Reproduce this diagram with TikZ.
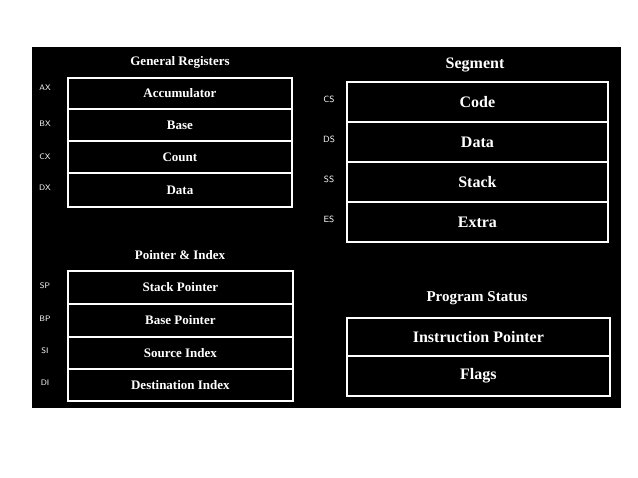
\documentclass[tikz,border=0pt]{standalone}
\usepackage{fontspec}
\setmainfont{Liberation Serif}
\begin{document}
\begin{tikzpicture}[x=1pt,y=-1pt,
  reg/.style={draw=white,line width=1.8pt,text=white,font=\bfseries\fontsize{13}{15}\selectfont,anchor=north west,inner sep=0pt},
  lbl/.style={text=white,font=\sffamily\fontsize{8}{9}\selectfont},
  ttl/.style={text=white,font=\bfseries\fontsize{13}{15}\selectfont}]
\useasboundingbox (0,0) rectangle (638,478);
\fill[black] (32,47) rectangle (621,408);
% General registers
\node[ttl] (tg) at (180,62) {General Registers};
\foreach \n/\t/\y/\h/\l/\ly in {ax/Accumulator/77/31/AX/88,bx/Base/108/32/BX/124,cx/Count/140/32/CX/157,dx/Data/172/34/DX/188}{
  \node[reg,minimum width=224pt,minimum height=\h pt] (\n) at (67,\y) {\t};
  \node[lbl] (l\n) at (45,\ly) {\l};
}
% Segment
\node[ttl,font=\bfseries\fontsize{16}{18}\selectfont] (ts) at (475,65) {Segment};
\foreach \n/\t/\y/\l in {cs/Code/81/CS,ds/Data/121/DS,ss/Stack/161/SS,es/Extra/201/ES}{
  \node[reg,font=\bfseries\fontsize{16}{18}\selectfont,minimum width=261pt,minimum height=40pt] (\n) at (346,\y) {\t};
  \node[lbl,font=\sffamily\fontsize{9}{10}\selectfont] (l\n) at (329,\y+18) {\l};
}
% Pointer & Index
\node[ttl] (tp) at (180,255) {Pointer \& Index};
\foreach \n/\t/\y/\h/\l/\ly in {sp/Stack Pointer/270/33/SP/286,bp/Base Pointer/303/33/BP/319,si/Source Index/336/32/SI/351,di/Destination Index/368/32/DI/383}{
  \node[reg,minimum width=225pt,minimum height=\h pt] (\n) at (67,\y) {\t};
  \node[lbl] (l\n) at (45,\ly) {\l};
}
% Program status
\node[ttl,font=\bfseries\fontsize{15}{17}\selectfont] (tps) at (477,298) {Program Status};
\node[reg,font=\bfseries\fontsize{16}{18}\selectfont,minimum width=263pt,minimum height=38pt] (ip) at (346,317) {Instruction Pointer};
\node[reg,font=\bfseries\fontsize{16}{18}\selectfont,minimum width=263pt,minimum height=40pt] (fl) at (346,355) {Flags};
\end{tikzpicture}
\end{document}
